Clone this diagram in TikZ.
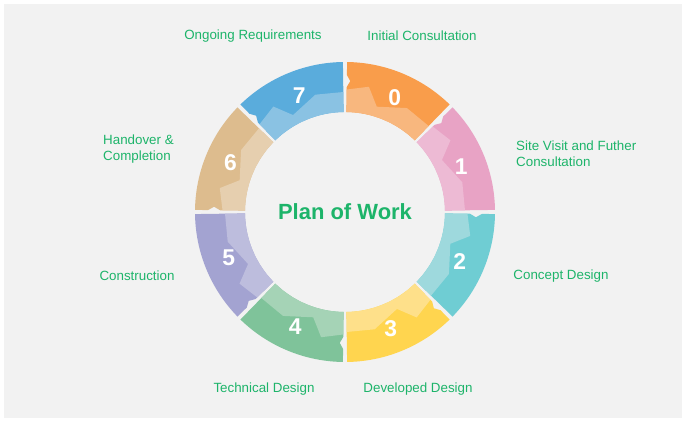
\documentclass[tikz,border=0pt]{standalone}
\usepackage{fontspec}
\setmainfont{Liberation Sans}
\definecolor{bgc}{HTML}{F2F2F2}
\definecolor{txtc}{HTML}{1DB46A}
\definecolor{segA}{HTML}{F99D4B}\definecolor{segAl}{HTML}{F8B77E}
\definecolor{segB}{HTML}{E8A3C5}\definecolor{segBl}{HTML}{EDBAD4}
\definecolor{segC}{HTML}{6FCDD3}\definecolor{segCl}{HTML}{9ED9DD}
\definecolor{segD}{HTML}{FFD54F}\definecolor{segDl}{HTML}{FEE08A}
\definecolor{segE}{HTML}{7FC39A}\definecolor{segEl}{HTML}{A5D3B6}
\definecolor{segF}{HTML}{A3A3D1}\definecolor{segFl}{HTML}{BDBDDD}
\definecolor{segG}{HTML}{DDBC8E}\definecolor{segGl}{HTML}{E6CFAF}
\definecolor{segH}{HTML}{5AACDC}\definecolor{segHl}{HTML}{8AC2E3}
\tikzset{
  lbl/.style={text=txtc,font=\fontsize{7.6}{9}\selectfont},
  num/.style={text=white,font=\fontsize{13}{14}\selectfont\bfseries}
}
\begin{document}
\begin{tikzpicture}
	%background
	\fill[white] (0,0) rectangle (13.72,8.44);
	\fill[bgc] (0.08,0.08) rectangle (13.64,8.36);
	\begin{scope}[shift={(6.9,4.2)}]
	\foreach \k/\dark/\light in {0/segA/segAl,1/segB/segBl,2/segC/segCl,3/segD/segDl,4/segE/segEl,5/segF/segFl,6/segG/segGl,7/segH/segHl}{
		\pgfmathsetmacro{\s}{90-45*\k-0.8}
		\pgfmathsetmacro{\e}{\s-43.4}
		\fill[\dark] (\s:2) -- (\s:2.5) -- (\s-1.5:2.62) -- (\s:2.74) -- (\s:3) arc[start angle=\s,end angle=\e,radius=3] -- (\e:2) arc[start angle=\e,end angle=\s,radius=2] -- cycle;
		\fill[\light] (\s:2) -- (\s:2.45) -- (\s-10:2.55) -- (\s-16:2.2) -- (\s-30:2.42) -- (\e:2.4) -- (\e:2) arc[start angle=\e,end angle=\s,radius=2] -- cycle;
		\node[num] (n\k) at (\s-22.7:2.5) {\k};
	}
	\end{scope}
	\node[text=txtc,font=\fontsize{12.5}{14}\selectfont\bfseries] (title) at (6.9,4.2) {Plan of Work};
	\node[lbl] (l7) at (5.06,7.72) {Ongoing Requirements};
	\node[lbl] (l0) at (8.44,7.72) {Initial Consultation};
	\node[lbl,anchor=west,align=left] (l1) at (10.2,5.36) {Site Visit and Futher\\Consultation};
	\node[lbl] (l2) at (11.22,2.92) {Concept Design};
	\node[lbl] (l3) at (8.36,0.66) {Developed Design};
	\node[lbl] (l4) at (5.28,0.66) {Technical Design};
	\node[lbl] (l5) at (2.74,2.92) {Construction};
	\node[lbl,anchor=west,align=left] (l6) at (1.94,5.46) {Handover \&\\Completion};
\end{tikzpicture}
\end{document}
